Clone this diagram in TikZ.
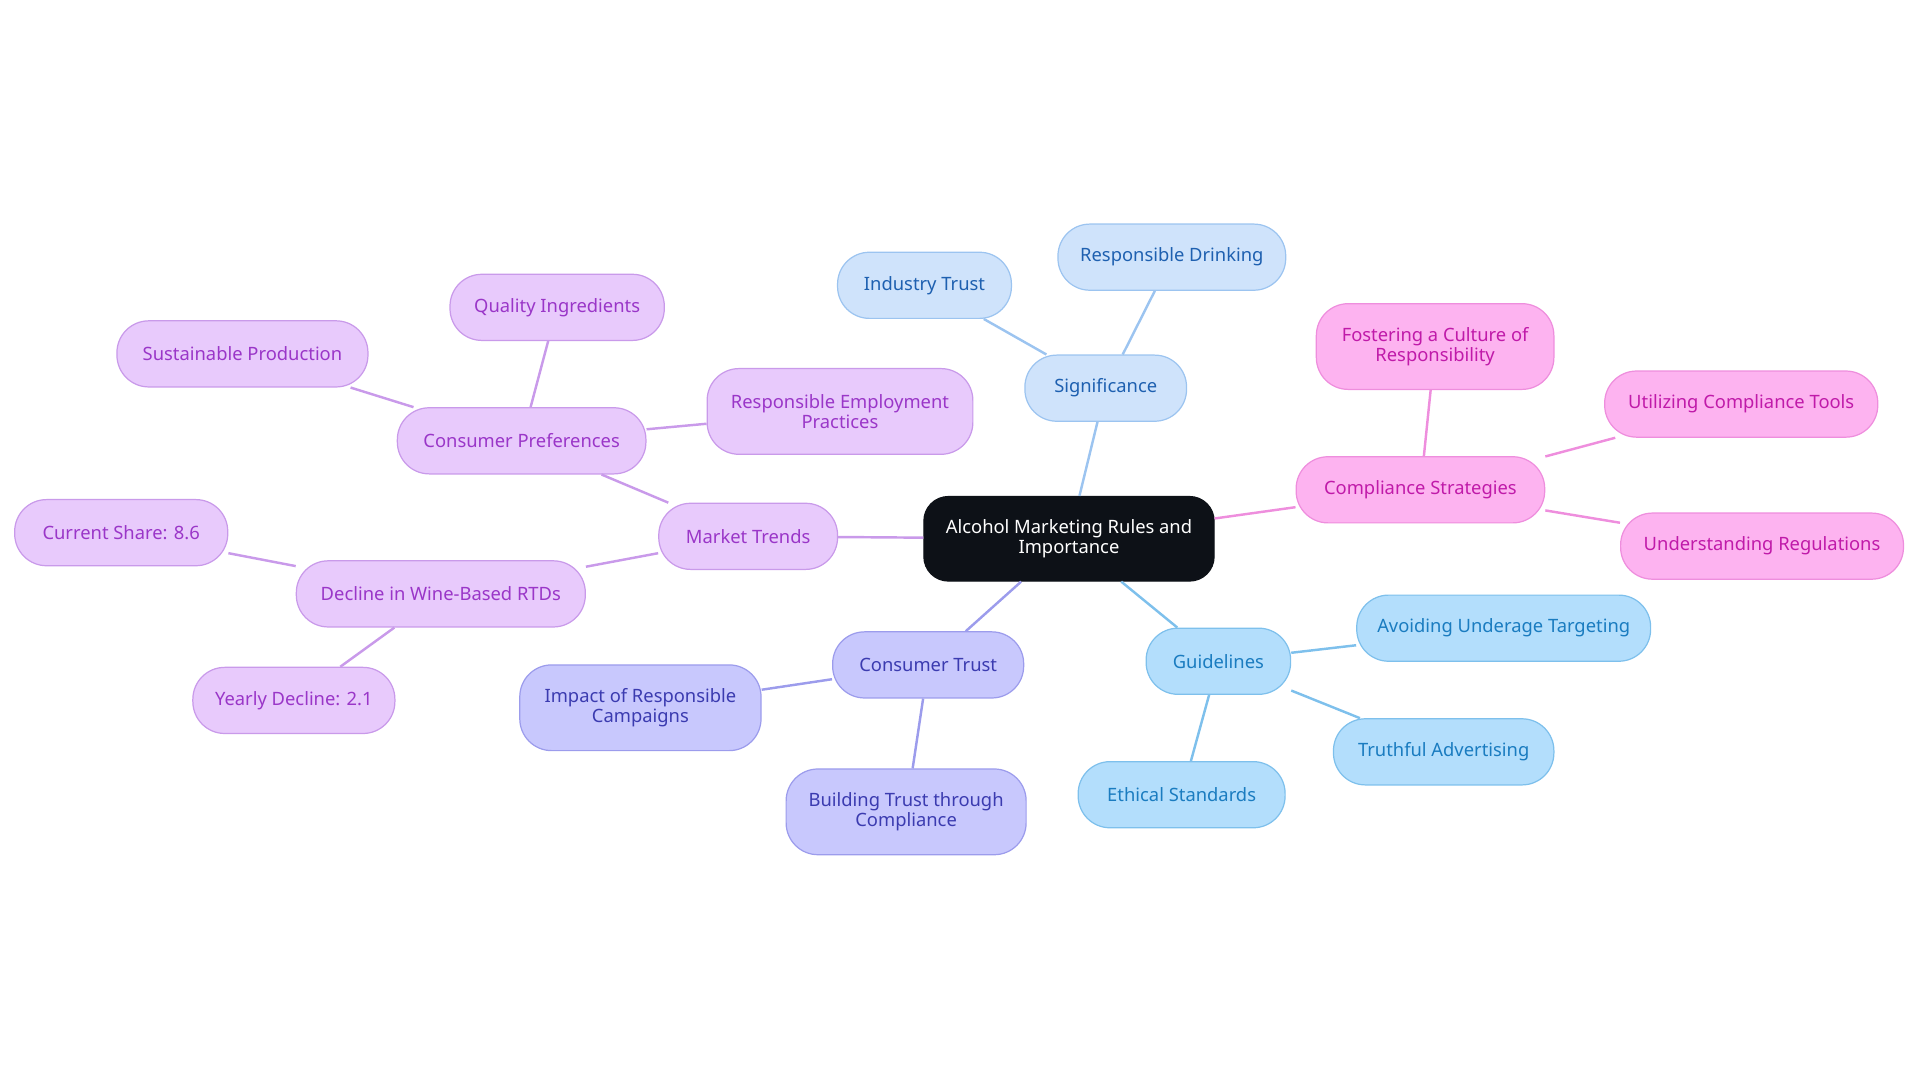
\documentclass[tikz,border=0pt]{standalone}
\usepackage{fontspec}
\setmainfont{Noto Sans}
\definecolor{rootc}{HTML}{0D1117}
\definecolor{sigf}{HTML}{CFE3FB}\definecolor{sigd}{HTML}{9CC4F0}\definecolor{sigt}{HTML}{1E60B0}
\definecolor{comf}{HTML}{FDB3F0}\definecolor{comd}{HTML}{EE8EDD}\definecolor{comt}{HTML}{C01AA9}
\definecolor{guif}{HTML}{B3DEFC}\definecolor{guid}{HTML}{7EC0EC}\definecolor{guit}{HTML}{1A7CC0}
\definecolor{conf}{HTML}{C8C8FD}\definecolor{cond}{HTML}{9C9CEC}\definecolor{cont}{HTML}{3B3BB0}
\definecolor{mktf}{HTML}{E8CAFC}\definecolor{mktd}{HTML}{C99AEA}\definecolor{mktt}{HTML}{9A36C8}

\tikzset{
  box/.style={rounded corners=13pt, align=center, font=\fontsize{7.5}{8}\selectfont,
    inner sep=0pt, minimum height=27pt, line width=0.5pt},
  root/.style={box, fill=rootc, draw=rootc, text=white, rounded corners=10pt, minimum height=34.5pt},
  sig/.style={box, fill=sigf, draw=sigd, text=sigt},
  com/.style={box, fill=comf, draw=comd, text=comt},
  gui/.style={box, fill=guif, draw=guid, text=guit},
  con/.style={box, fill=conf, draw=cond, text=cont},
  mkt/.style={box, fill=mktf, draw=mktd, text=mktt},
  tall/.style={minimum height=35pt},
  link/.style={line width=1pt}
}

\begin{document}
\begin{tikzpicture}[x=0.5pt, y=-0.5pt]

    \useasboundingbox (0,0) rectangle (1568,884.4);

    % centre
    \node[root, minimum width=118.5pt] (root) at (873,440) {Alcohol Marketing Rules and\\Importance};

    % Significance
    \node[sig, minimum width=66pt] (sig) at (903,317) {Significance};
    \node[sig, minimum width=71pt] (trust) at (755,233) {Industry Trust};
    \node[sig, minimum width=93pt] (drink) at (957,210) {Responsible Drinking};

    % Compliance Strategies
    \node[com, minimum width=101.5pt] (comp) at (1160,400) {Compliance Strategies};
    \node[com, tall, minimum width=97pt] (foster) at (1172,283) {Fostering a Culture of\\Responsibility};
    \node[com, minimum width=111.5pt] (tools) at (1422,330) {Utilizing Compliance Tools};
    \node[com, minimum width=115.5pt] (regs) at (1439,446) {Understanding Regulations};

    % Guidelines
    \node[gui, minimum width=59pt] (guide) at (995,540) {Guidelines};
    \node[gui, minimum width=120pt] (under) at (1228,513) {Avoiding Underage Targeting};
    \node[gui, minimum width=90pt] (truth) at (1179,614) {Truthful Advertising};
    \node[gui, minimum width=84.5pt] (ethic) at (965,649) {Ethical Standards};

    % Consumer Trust
    \node[con, minimum width=78pt] (ctrust) at (758,543) {Consumer Trust};
    \node[con, tall, minimum width=98.5pt] (impact) at (523,578) {Impact of Responsible\\Campaigns};
    \node[con, tall, minimum width=98pt] (build) at (740,663) {Building Trust through\\Compliance};

    % Market Trends
    \node[mkt, minimum width=73pt] (market) at (611,438) {Market Trends};
    \node[mkt, minimum width=101.5pt] (prefs) at (426,360) {Consumer Preferences};
    \node[mkt, minimum width=87.5pt] (quality) at (455,251) {Quality Ingredients};
    \node[mkt, minimum width=102.5pt] (sustain) at (198,289) {Sustainable Production};
    \node[mkt, tall, minimum width=108.5pt] (employ) at (686,336) {Responsible Employment\\Practices};
    \node[mkt, minimum width=118pt] (wine) at (360,485) {Decline in Wine-Based RTDs};
    \node[mkt, minimum width=87pt] (share) at (99,435) {Current Share: 8.6};
    \node[mkt, minimum width=82.5pt] (yearly) at (240,572) {Yearly Decline: 2.1};

    % connectors
    \begin{scope}[on background layer/.style={}]
    \foreach \a/\b/\c in {root/sig/sigd, sig/trust/sigd, sig/drink/sigd,
        root/comp/comd, comp/foster/comd, comp/tools/comd, comp/regs/comd,
        root/guide/guid, guide/under/guid, guide/truth/guid, guide/ethic/guid,
        root/ctrust/cond, ctrust/impact/cond, ctrust/build/cond,
        root/market/mktd, market/prefs/mktd, prefs/quality/mktd, prefs/sustain/mktd,
        prefs/employ/mktd, market/wine/mktd, wine/share/mktd, wine/yearly/mktd}
      \draw[link, \c] (\a) -- (\b);
    \end{scope}
\end{tikzpicture}
\end{document}
